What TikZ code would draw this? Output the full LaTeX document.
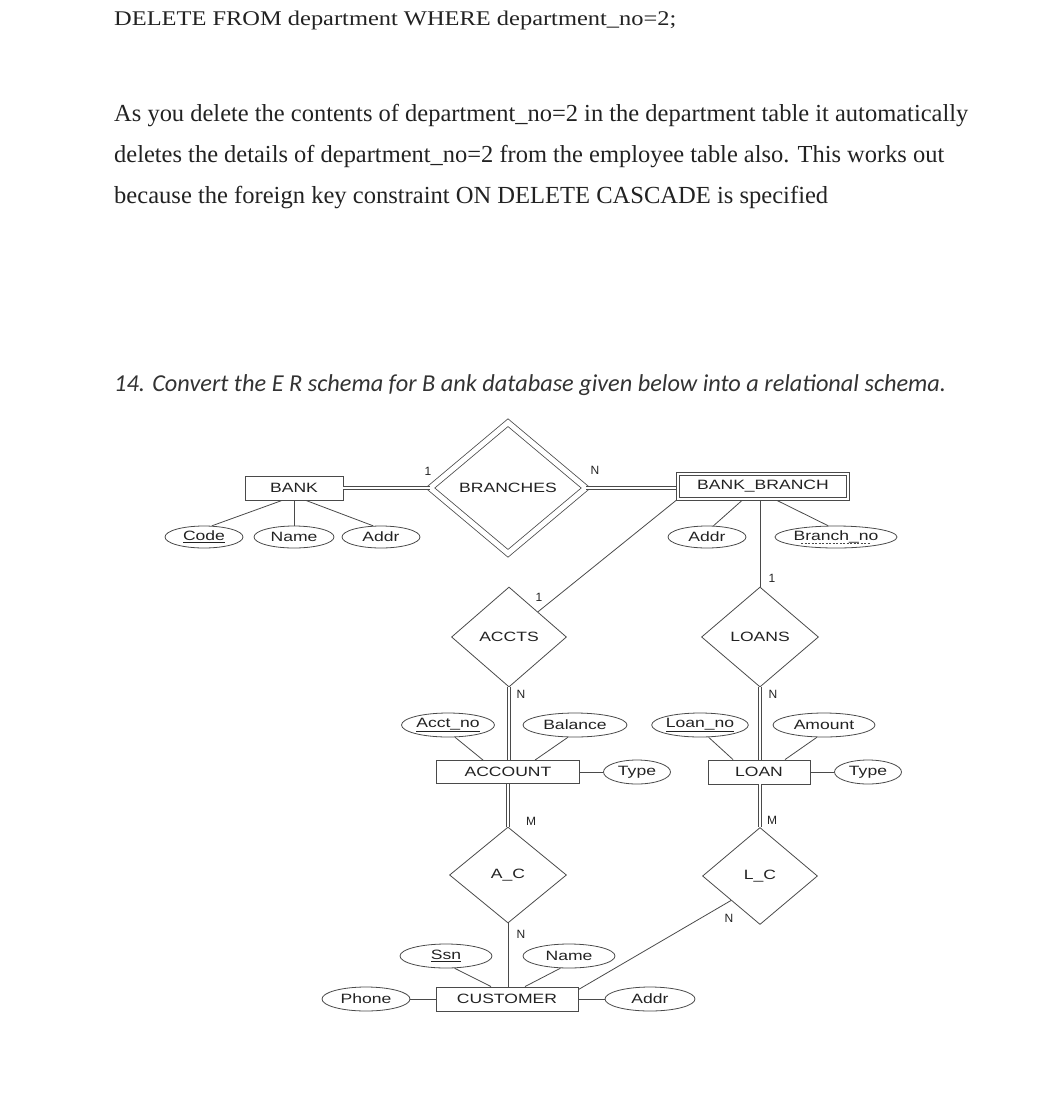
\documentclass[tikz,border=0pt]{standalone}
\usepackage{fontspec}
\usepackage{graphicx}
\setmainfont{Liberation Serif}
\newfontfamily\erfont{Liberation Sans}
\newfontfamily\titlefont{Carlito}
\usetikzlibrary{shapes.geometric}
\newcommand\sx[1]{\scalebox{1.3}[1]{#1}}
\definecolor{ink}{HTML}{222222}
\definecolor{erline}{HTML}{4A4A4A}
\tikzset{
  er/.style={font=\erfont\fontsize{13.5}{13.5}\selectfont, text=ink},
  entity/.style={er, draw=erline, line width=0.9pt, rectangle, inner sep=0pt, minimum height=24pt},
  attr/.style={er, draw=erline, line width=0.8pt, ellipse, inner sep=0pt, minimum height=24pt},
  rel/.style={er, draw=erline, line width=0.8pt, diamond, inner sep=0pt},
  conn/.style={draw=erline, line width=0.8pt},
  dconn/.style={draw=erline, line width=0.7pt, double, double distance=2pt},
  card/.style={font=\erfont\fontsize{12}{12}\selectfont, text=ink, inner sep=0pt},
  body/.style={anchor=base west, inner sep=0pt, text=ink},
}
\begin{document}
\begin{tikzpicture}[x=1pt,y=-1pt]
\useasboundingbox (0,0) rectangle (1048,1104);
% text
\node[body] (l1) at (114,25) {\resizebox{562pt}{14.5pt}{DELETE FROM department WHERE department\_no=2;}};
\node[body] (l2) at (114,121) {\resizebox{854pt}{!}{\fontsize{20}{24}\selectfont As you delete the contents of department\_no=2 in the department table it automatically}};
\node[body] (l3) at (114,162) {\resizebox{830pt}{!}{\fontsize{20}{24}\selectfont deletes the details of department\_no=2 from the employee table also. This works out}};
\node[body] (l4) at (114,203) {\resizebox{714pt}{!}{\fontsize{20}{24}\selectfont because the foreign key constraint ON DELETE CASCADE is specified}};
\node[body, text=black!80] (title) at (114,391) {\resizebox{832pt}{!}{\titlefont\itshape\fontsize{24}{28}\selectfont 14. Convert the E R schema for B ank database given below into a relational schema.}};

% entities
\node[entity, minimum width=98pt] (bank) at (294,488) {\sx{BANK}};
\node[rel, double, double distance=5pt, minimum width=156pt, minimum height=131pt] (branches) at (508,488) {\sx{BRANCHES}};
\node[entity, minimum width=173pt, minimum height=28pt] (bankbranch) at (763,486) {\sx{BANK\_BRANCH}};
\draw[erline, line width=0.8pt] ([shift={(3.5pt,-3.5pt)}]bankbranch.north west) rectangle ([shift={(-3.5pt,3.5pt)}]bankbranch.south east);

\node[attr, minimum width=78pt, minimum height=22pt] (code) at (204,537) {\sx{\underline{Code}}};
\node[attr, minimum width=80pt, minimum height=22pt] (bname) at (294,537) {\sx{Name}};
\node[attr, minimum width=78pt, minimum height=22pt] (baddr) at (381,537) {\sx{Addr}};
\node[attr, minimum width=78pt, minimum height=22pt] (bbaddr) at (707,537) {\sx{Addr}};
\node[attr, minimum width=122pt, minimum height=22pt] (branchno) at (836,537) {\sx{Branch\_no}};
\draw[erline, line width=0.6pt, dash pattern=on 2pt off 1.5pt] ([xshift=-35pt,yshift=-6.5pt]branchno.center) -- ([xshift=35pt,yshift=-6.5pt]branchno.center);

\node[rel, minimum width=115pt, minimum height=100pt] (accts) at (509,637) {\sx{ACCTS}};
\node[rel, minimum width=117pt, minimum height=100pt] (loans) at (760,637) {\sx{LOANS}};

\node[attr, minimum width=93pt] (acctno) at (448,725) {\sx{\underline{Acct\_no}}};
\node[attr, minimum width=104pt] (balance) at (575,725) {\sx{Balance}};
\node[attr, minimum width=89pt] (loanno) at (700,725) {\sx{\underline{Loan\_no}}};
\node[attr, minimum width=102pt] (amount) at (824,725) {\sx{Amount}};

\node[entity, minimum width=143pt, minimum height=23pt] (account) at (508,772) {\sx{ACCOUNT}};
\node[attr, minimum width=67pt] (type1) at (637,772) {\sx{Type}};
\node[entity, minimum width=102pt, minimum height=24pt] (loan) at (759,772) {\sx{LOAN}};
\node[attr, minimum width=67pt] (type2) at (868,772) {\sx{Type}};

\node[rel, minimum width=117pt, minimum height=96pt] (ac) at (508,875) {\sx{A\_C}};
\node[rel, minimum width=115pt, minimum height=97pt] (lc) at (760,876) {\sx{L\_C}};

\node[attr, minimum width=92pt] (ssn) at (446,956) {\sx{\underline{Ssn}}};
\node[attr, minimum width=92pt] (cname) at (569,956) {\sx{Name}};
\node[entity, minimum width=142pt, minimum height=24pt] (customer) at (507,999) {\sx{CUSTOMER}};
\node[attr, minimum width=88pt] (phone) at (366,999) {\sx{Phone}};
\node[attr, minimum width=90pt] (caddr) at (650,999) {\sx{Addr}};

% connectors
\draw[dconn] (bank.east) -- (branches.west);
\draw[dconn] (branches.east) -- (branches.east -| bankbranch.west);
\draw[conn] ([xshift=-12pt]bank.south) -- (code.55);
\draw[conn] (bank.south) -- (bname.north);
\draw[conn] ([xshift=12pt]bank.south) -- (baddr.125);
\draw[conn] ([xshift=-21pt]bankbranch.south) -- (bbaddr.60);
\draw[conn] ([xshift=14pt]bankbranch.south) -- (branchno.125);
\draw[conn] (loans.north) -- (loans.north |- bankbranch.south);
\draw[conn] (bankbranch.south west) -- (accts.north east);

\draw[dconn] (accts.south) -- (accts.south |- account.north);
\draw[conn] (acctno.-60) -- ([xshift=-25pt]account.north);
\draw[conn] (balance.-120) -- ([xshift=27pt]account.north);
\draw[conn] (account.east) -- (type1.west);

\draw[dconn] (loans.south) -- (loans.south |- loan.north);
\draw[conn] (loanno.-55) -- ([xshift=-26pt]loan.north);
\draw[conn] (amount.-120) -- ([xshift=26pt]loan.north);
\draw[conn] (loan.east) -- (type2.west);

\draw[dconn] (account.south) -- (ac.north);
\draw[conn] (ac.south) -- (ac.south |- customer.north);
\draw[dconn] (lc.north |- loan.south) -- (lc.north);

\draw[conn] (ssn.-55) -- ([xshift=-16pt]customer.north);
\draw[conn] (cname.-125) -- ([xshift=18pt]customer.north);
\draw[conn] (phone.east) -- (customer.west);
\draw[conn] (customer.east) -- (caddr.west);
\draw[conn] ([yshift=-3pt]customer.north east) -- (lc.south west);

% cardinalities
\node[card] (c1) at (428,471) {1};
\node[card] (c2) at (595,470) {N};
\node[card] (c3) at (539,597) {1};
\node[card] (c4) at (772,578) {1};
\node[card] (c5) at (521,694) {N};
\node[card] (c6) at (773,694) {N};
\node[card] (c7) at (531,821) {M};
\node[card] (c8) at (521,934) {N};
\node[card] (c9) at (772,820) {M};
\node[card] (c10) at (729,918) {N};
\end{tikzpicture}
\end{document}
